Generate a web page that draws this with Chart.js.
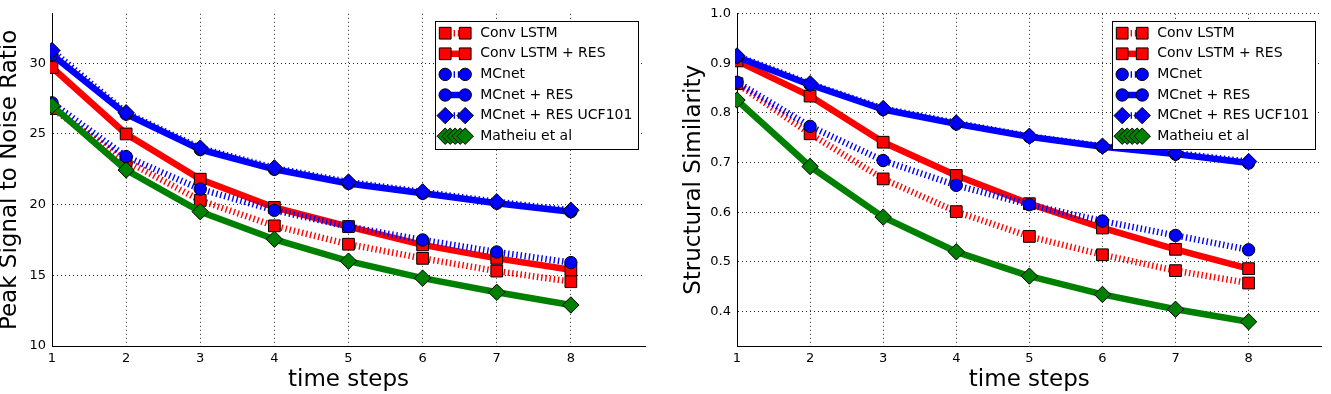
<!DOCTYPE html>
<html><head><meta charset="utf-8">
<script src="https://cdn.jsdelivr.net/npm/chart.js@4/dist/chart.umd.min.js"></script>
<style>
html,body{margin:0;padding:0;background:#fff;width:1331px;height:394px;overflow:hidden}
#c1{position:absolute;left:0;top:0}
#c2{position:absolute;left:660px;top:0}
</style></head><body>
<canvas id="c1" width="660" height="394"></canvas>
<canvas id="c2" width="671" height="394"></canvas>
<script>
// ---- data ----
const timeSteps = [1, 2, 3, 4, 5, 6, 7, 8];
const seriesNames = ['Conv LSTM', 'Conv LSTM + RES', 'MCnet', 'MCnet + RES', 'MCnet + RES UCF101', 'Matheiu et al'];

const psnrConvLSTM    = [26.8, 23.1, 20.3, 18.5, 17.2, 16.2, 15.3, 14.55];
const psnrConvLSTMRes = [29.7, 25.0, 21.8, 19.8, 18.45, 17.15, 16.2, 15.4];
const psnrMCnet       = [27.2, 23.4, 21.1, 19.6, 18.45, 17.5, 16.65, 15.9];
const psnrMCnetRes    = [30.6, 26.4, 23.9, 22.5, 21.5, 20.8, 20.1, 19.5];
const psnrMCnetResUCF = [30.9, 26.5, 24.0, 22.6, 21.6, 20.9, 20.2, 19.6];
const psnrMatheiu     = [27.0, 22.45, 19.5, 17.55, 16.0, 14.8, 13.8, 12.9];

const ssimConvLSTM    = [0.859, 0.758, 0.667, 0.601, 0.551, 0.514, 0.482, 0.457];
const ssimConvLSTMRes = [0.905, 0.834, 0.741, 0.674, 0.617, 0.568, 0.525, 0.486];
const ssimMCnet       = [0.862, 0.773, 0.704, 0.654, 0.615, 0.582, 0.553, 0.524];
const ssimMCnetRes    = [0.913, 0.857, 0.807, 0.778, 0.752, 0.732, 0.717, 0.699];
const ssimMCnetResUCF = [0.915, 0.859, 0.809, 0.780, 0.753, 0.733, 0.719, 0.702];
const ssimMatheiu     = [0.826, 0.692, 0.590, 0.520, 0.471, 0.434, 0.404, 0.379];

const xTickValues = [1, 2, 3, 4, 5, 6, 7, 8];
const xTickLabels = ['1', '2', '3', '4', '5', '6', '7', '8'];
const psnrTickValues = [10, 15, 20, 25, 30];
const psnrTickLabels = ['10', '15', '20', '25', '30'];
const ssimTickValues = [0.4, 0.5, 0.6, 0.7, 0.8, 0.9, 1.0];
const ssimTickLabels = ['0.4', '0.5', '0.6', '0.7', '0.8', '0.9', '1.0'];

// ---- styles ----
const FONT = '"DejaVu Sans", "Bitstream Vera Sans", sans-serif';
const DOT = [1.4, 2.8];
const seriesStyles = [
  {color: '#ff0000', dash: DOT, width: 6.5, point: 'rect', r: 8.3, legendMarkers: 2},
  {color: '#ff0000', dash: [], width: 6.5, point: 'rect', r: 8.3, legendMarkers: 2},
  {color: '#0000ff', dash: DOT, width: 6.5, point: 'circle', r: 6.2, legendMarkers: 2},
  {color: '#0000ff', dash: [], width: 6.5, point: 'circle', r: 6.2, legendMarkers: 2},
  {color: '#0000ff', dash: DOT, width: 6.5, point: 'rectRot', r: 8.2, legendMarkers: 2},
  {color: '#008000', dash: [], width: 6.5, point: 'rectRot', r: 8.2, legendMarkers: 5}
];

function drawMarker(ctx, style, r, x, y) {
  ctx.beginPath();
  if (style === 'circle') {
    ctx.arc(x, y, r, 0, Math.PI * 2);
  } else if (style === 'rect') {
    const s = r * Math.SQRT1_2;
    ctx.rect(x - s, y - s, 2 * s, 2 * s);
  } else {
    ctx.moveTo(x, y - r); ctx.lineTo(x + r, y); ctx.lineTo(x, y + r); ctx.lineTo(x - r, y); ctx.closePath();
  }
  ctx.fill();
  ctx.stroke();
}

const mplLegend = {
  id: 'mplLegend',
  afterDraw(chart, args, o) {
    const ctx = chart.ctx, a = chart.chartArea;
    const x0 = Math.round(a.right - o.insetRight - o.width) + 0.5;
    const y0 = Math.round(a.top + o.insetTop) + 0.5;
    ctx.save();
    ctx.fillStyle = '#fff';
    ctx.fillRect(x0, y0, o.width, o.height);
    ctx.strokeStyle = '#000'; ctx.lineWidth = 1; ctx.setLineDash([]);
    ctx.strokeRect(x0, y0, o.width, o.height);
    chart.data.datasets.forEach((ds, i) => {
      const st = seriesStyles[i];
      const cy = y0 + o.firstRow + i * o.rowGap;
      const m1 = x0 + o.marker1, m2 = x0 + o.marker2;
      ctx.save();
      ctx.strokeStyle = st.color; ctx.lineWidth = st.width; ctx.lineCap = 'butt';
      ctx.setLineDash(st.dash);
      ctx.beginPath(); ctx.moveTo(m1, cy); ctx.lineTo(m2, cy); ctx.stroke();
      ctx.restore();
      ctx.fillStyle = st.color; ctx.strokeStyle = '#000'; ctx.lineWidth = 1; ctx.setLineDash([]);
      const n = st.legendMarkers;
      for (let k = 0; k < n; k++) {
        drawMarker(ctx, st.point, st.r, m1 + (m2 - m1) * k / (n - 1), cy);
      }
      ctx.fillStyle = '#000';
      ctx.font = o.fontSize + 'px ' + FONT;
      ctx.textBaseline = 'middle'; ctx.textAlign = 'left';
      ctx.fillText(ds.label, x0 + o.textX, cy);
    });
    ctx.restore();
  }
};

function buildDatasets(seriesValues) {
  return seriesValues.map((vals, i) => {
    const st = seriesStyles[i];
    return {
      label: seriesNames[i],
      data: timeSteps.map((t, j) => ({x: t, y: vals[j]})),
      borderColor: st.color,
      borderWidth: st.width,
      borderDash: st.dash,
      borderCapStyle: 'butt',
      borderJoinStyle: 'round',
      backgroundColor: st.color,
      pointStyle: st.point,
      pointRadius: st.r,
      pointBackgroundColor: st.color,
      pointBorderColor: '#000',
      pointBorderWidth: 1,
      tension: 0,
      fill: false,
      order: -i,
      clip: {left: 2, right: 5, top: 5, bottom: 5}
    };
  });
}

function makeChart(id, seriesValues, cfg) {
  return new Chart(document.getElementById(id), {
    type: 'line',
    data: {datasets: buildDatasets(seriesValues)},
    plugins: [mplLegend],
    options: {
      responsive: false,
      animation: false,
      devicePixelRatio: 1,
      layout: {padding: cfg.padding},
      plugins: {
        legend: {display: false},
        tooltip: {enabled: false},
        mplLegend: {
          width: 203, height: 128, insetRight: 7, insetTop: 7,
          firstRow: 11.7, rowGap: 20.6, marker1: 9.7, marker2: 29.7, textX: 44.7, fontSize: 14
        }
      },
      scales: {
        x: {
          type: 'linear', min: 1, max: 9, z: 1,
          afterFit: s => { s.height = 48; },
          afterBuildTicks: s => { s.ticks = xTickValues.map(v => ({value: v})); },
          grid: {color: 'rgba(0,0,0,0.85)', lineWidth: 1, drawTicks: false},
          border: {display: true, color: '#000', width: 1, dash: [1, 3]},
          ticks: {
            padding: 5, color: '#000', font: {family: FONT, size: 13},
            maxRotation: 0, autoSkip: false,
            callback: v => xTickLabels[xTickValues.indexOf(v)]
          },
          title: {
            display: true, text: 'time steps', color: '#000',
            font: {family: FONT, size: 23, lineHeight: 0.85},
            padding: {top: 0, bottom: 3.8}
          }
        },
        y: {
          type: 'linear', min: cfg.yMin, max: cfg.yMax, z: 1,
          afterFit: s => { s.width = cfg.yWidth; },
          afterBuildTicks: s => { s.ticks = cfg.tickValues.map(v => ({value: v})); },
          grid: {color: 'rgba(0,0,0,0.85)', lineWidth: 1, drawTicks: false},
          border: {display: true, color: '#000', width: 1, dash: [1, 3]},
          ticks: {
            padding: 6, color: '#000', font: {family: FONT, size: 13},
            autoSkip: false,
            callback: v => cfg.tickLabels[cfg.tickValues.findIndex(t => Math.abs(t - v) < 1e-9)]
          },
          title: {
            display: true, text: cfg.yTitle, color: '#000',
            font: {family: FONT, size: 23, lineHeight: 0.85},
            padding: {top: cfg.yTitlePad, bottom: 0}
          }
        }
      }
    }
  });
}

makeChart('c1',
  [psnrConvLSTM, psnrConvLSTMRes, psnrMCnet, psnrMCnetRes, psnrMCnetResUCF, psnrMatheiu],
  {padding: {left: 0, top: 1, right: 15, bottom: 0}, yMin: 10, yMax: 33.5, yWidth: 52,
   tickValues: psnrTickValues, tickLabels: psnrTickLabels,
   yTitle: 'Peak Signal to Noise Ratio', yTitlePad: 0});

makeChart('c2',
  [ssimConvLSTM, ssimConvLSTMRes, ssimMCnet, ssimMCnetRes, ssimMCnetResUCF, ssimMatheiu],
  {padding: {left: 0, top: 8, right: 4, bottom: 0}, yMin: 0.33, yMax: 1.0, yWidth: 77,
   tickValues: ssimTickValues, tickLabels: ssimTickLabels,
   yTitle: 'Structural Similarity', yTitlePad: 24.3});
</script>
</body></html>
